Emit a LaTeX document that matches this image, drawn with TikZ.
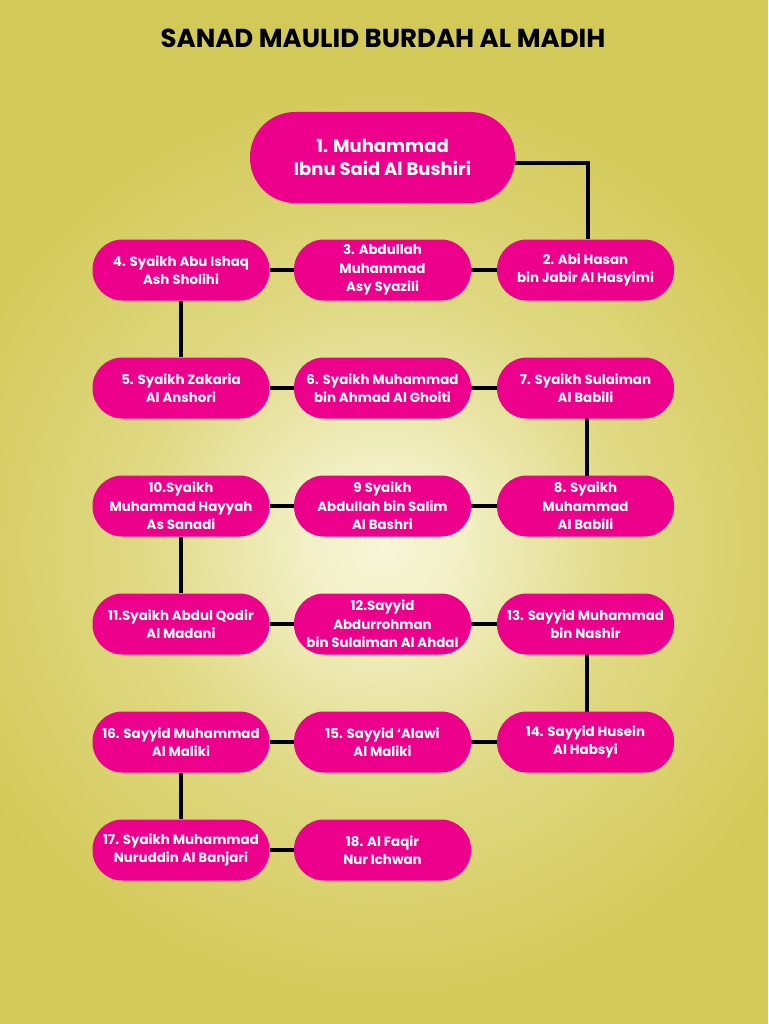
\documentclass[tikz,border=0pt]{standalone}
\usepackage{fontspec}
\setmainfont{Poppins}
\usetikzlibrary{backgrounds}
\definecolor{pinkbox}{RGB}{236,0,140}
\definecolor{bgout}{RGB}{211,201,88}
\definecolor{bgmid}{RGB}{224,217,132}
\definecolor{bgin}{RGB}{247,246,215}
\pgfdeclareradialshading{bgglow}{\pgfpoint{0bp}{0bp}}{color(0bp)=(bgin); color(4bp)=(bgin!80!bgmid); color(13bp)=(bgmid); color(25bp)=(bgout); color(50bp)=(bgout)}
\tikzset{
  person/.style={fill=pinkbox, text=white, align=center, rounded corners=30pt,
    minimum width=177pt, minimum height=61pt, inner sep=0pt,
    font=\bfseries\fontsize{13.4}{18.5}\selectfont},
  topperson/.style={person, minimum width=265pt, minimum height=91pt, rounded corners=45pt,
    font=\bfseries\fontsize{18}{23}\selectfont},
  link/.style={line width=3.2pt, black}
}
\begin{document}
\begin{tikzpicture}[x=1pt,y=-1pt]
\useasboundingbox (0,0) rectangle (768,1024);
\node[font=\bfseries\fontsize{26}{30}\selectfont, text=black] (title) at (383,38) {SANAD MAULID BURDAH AL MADIH};
\node[topperson] (n1) at (382.5,157.5) {1. Muhammad\\Ibnu Said Al Bushiri};
% row 1
\node[person] (n4) at (181,270) {4. Syaikh Abu Ishaq\\Ash Sholihi};
\node[person] (n3) at (382.5,270) {3. Abdullah\\Muhammad\\Asy Syazili};
\node[person] (n2) at (585.5,270) {2. Abi Hasan\\bin Jabir Al Hasyimi};
% row 2
\node[person] (n5) at (181,388) {5. Syaikh Zakaria\\Al Anshori};
\node[person] (n6) at (382.5,388) {6. Syaikh Muhammad\\bin Ahmad Al Ghoiti};
\node[person] (n7) at (585.5,388) {7. Syaikh Sulaiman\\Al Babili};
% row 3
\node[person] (n10) at (181,506) {10.Syaikh\\Muhammad Hayyah\\As Sanadi};
\node[person] (n9) at (382.5,506) {9 Syaikh\\Abdullah bin Salim\\Al Bashri};
\node[person] (n8) at (585.5,506) {8. Syaikh\\Muhammad\\Al Babili};
% row 4
\node[person] (n11) at (181,624) {11.Syaikh Abdul Qodir\\Al Madani};
\node[person] (n12) at (382.5,624) {12.Sayyid\\Abdurrohman\\bin Sulaiman Al Ahdal};
\node[person] (n13) at (585.5,624) {13. Sayyid Muhammad\\bin Nashir};
% row 5
\node[person] (n16) at (181,742) {16. Sayyid Muhammad\\Al Maliki};
\node[person] (n15) at (382.5,742) {15. Sayyid ‘Alawi\\Al Maliki};
\node[person] (n14) at (585.5,742) {14. Sayyid Husein\\Al Habsyi};
% row 6
\node[person] (n17) at (181,850) {17. Syaikh Muhammad\\Nuruddin Al Banjari};
\node[person] (n18) at (382.5,850) {18. Al Faqir\\Nur Ichwan};
\begin{scope}[on background layer]
  \fill[bgout] (0,0) rectangle (768,1024);
  \begin{scope}
    \clip (0,0) rectangle (768,1024);
    \shade[shading=bgglow] (383,545) circle (470);
  \end{scope}
  \draw[link] ([yshift=-5.5pt]n1.east) -| ([xshift=2.5pt]n2.north);
  \draw[link] (n4) -- (n3); \draw[link] (n3) -- (n2);
  \draw[link] (n4) -- (n5);
  \draw[link] (n5) -- (n6); \draw[link] (n6) -- (n7);
  \draw[link] ([xshift=1.5pt]n7.center) -- ([xshift=1.5pt]n8.center);
  \draw[link] (n10) -- (n9); \draw[link] (n9) -- (n8);
  \draw[link] (n10) -- (n11);
  \draw[link] (n11) -- (n12); \draw[link] (n12) -- (n13);
  \draw[link] ([xshift=1.5pt]n13.center) -- ([xshift=1.5pt]n14.center);
  \draw[link] (n16) -- (n15); \draw[link] (n15) -- (n14);
  \draw[link] (n16) -- (n17);
  \draw[link] (n17) -- (n18);
\end{scope}
\end{tikzpicture}
\end{document}
